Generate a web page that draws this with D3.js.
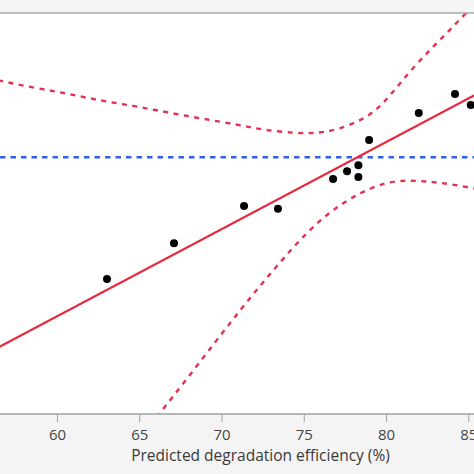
<!DOCTYPE html>
<html><head><meta charset="utf-8">
<script src="https://cdn.jsdelivr.net/npm/d3@7"></script>
<style>html,body{margin:0;padding:0;background:#f4f4f4;overflow:hidden}</style>
</head><body>
<script>
const predicted = [63.04,67.11,71.37,73.43,76.78,77.63,78.32,78.32,78.97,81.99,84.19,85.15];
const actual    = [64.29,68.38,72.66,72.35,75.76,76.64,75.99,77.33,80.23,83.33,85.51,84.25];
const fitX = [56.3,85.7];
const fitY = [56.3,85.7];
const meanY = 78.25;
const upperX = [55.8,56.4,58.54,60.59,62.61,64.62,66.67,68.69,71.12,72.52,74.57,75.79,77.00,78.60,79.82,81.64,83.69,84.80,85.3,85.8];
const upperY = [87.3,87.1,86.23,85.59,84.74,84.17,83.41,82.72,81.95,81.38,81.00,81.00,81.38,82.53,84.25,88.64,92.47,94.69,95.6,96.5];
const lowerX = [65.6,65.9,66.26,69.10,71.12,73.15,75.18,77.20,79.64,81.26,82.67,83.89,85.6,86.0];
const lowerY = [47.6,48.2,48.88,55.76,60.73,65.32,69.71,72.97,75.33,75.64,75.45,75.19,74.6,74.4];
const xTicks = [60,65,70,75,80,85];
const xTitle = "Predicted degradation efficiency (%)";

const W=474,H=474, plotTop=13, plotBottom=414;
const svg=d3.select("body").append("svg").attr("width",W).attr("height",H);
const x=d3.scaleLinear().domain([60,85]).range([57,468.3]);
const y=d3.scaleLinear().domain([48.8,94.8]).range([plotBottom,plotTop]);

svg.append("rect").attr("x",0).attr("y",plotTop).attr("width",W).attr("height",plotBottom-plotTop).attr("fill","#fff");
svg.append("defs").append("clipPath").attr("id","clip").append("rect")
  .attr("x",0).attr("y",plotTop).attr("width",W).attr("height",plotBottom-plotTop);
const g=svg.append("g").attr("clip-path","url(#clip)");

g.append("line").attr("x1",0).attr("x2",W).attr("y1",y(meanY)).attr("y2",y(meanY))
  .attr("stroke","#2f62e6").attr("stroke-width",2.6).attr("stroke-dasharray","5.5,5");

const line=d3.line().x(d=>x(d[0])).y(d=>y(d[1])).curve(d3.curveBasis);
g.append("path").datum(upperX.map((v,i)=>[v,upperY[i]])).attr("d",line)
  .attr("fill","none").attr("stroke","#e33150").attr("stroke-width",2.4).attr("stroke-dasharray","5,5.5");
g.append("path").datum(lowerX.map((v,i)=>[v,lowerY[i]])).attr("d",line)
  .attr("fill","none").attr("stroke","#e33150").attr("stroke-width",2.4).attr("stroke-dasharray","5,5.5");

g.append("path").datum(fitX.map((v,i)=>[v,fitY[i]])).attr("d",d3.line().x(d=>x(d[0])).y(d=>y(d[1])))
  .attr("fill","none").attr("stroke","#e8283e").attr("stroke-width",2.2);

g.selectAll("circle.pt").data(predicted.map((v,i)=>[v,actual[i]])).enter().append("circle")
  .attr("cx",d=>x(d[0])).attr("cy",d=>y(d[1])).attr("r",4).attr("fill","#000");

svg.append("line").attr("x1",0).attr("x2",W).attr("y1",plotTop).attr("y2",plotTop).attr("stroke","#a8a8a8").attr("stroke-width",1.5);

const ax=svg.append("g").attr("transform",`translate(0,${plotBottom})`)
  .call(d3.axisBottom(x).tickValues(xTicks).tickSize(8).tickPadding(7).tickFormat(d3.format("d")));
ax.select(".domain").remove();
ax.selectAll(".tick line").attr("stroke","#a0a0a0");
ax.selectAll(".tick text").attr("fill","#454545").attr("font-family","Open Sans").attr("font-size",15);
svg.append("line").attr("x1",0).attr("x2",W).attr("y1",plotBottom).attr("y2",plotBottom).attr("stroke","#a0a0a0").attr("stroke-width",1.5);

svg.append("text").attr("x",260.5).attr("y",461).attr("text-anchor","middle")
  .attr("font-family","Open Sans").attr("font-size",15.5).attr("fill","#3a3a3a").text(xTitle);
</script>
</body></html>
